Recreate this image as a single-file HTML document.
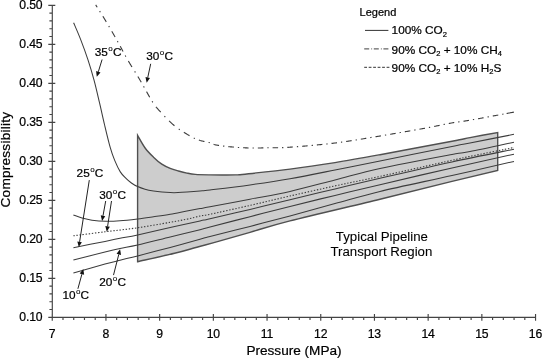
<!DOCTYPE html>
<html><head><meta charset="utf-8"><title>Compressibility vs Pressure</title>
<style>
html,body{margin:0;padding:0;background:#fff;}
body{width:542px;height:359px;overflow:hidden;position:relative;font-family:"Liberation Sans",Arial,sans-serif;}
svg text{font-family:"Liberation Sans",Arial,sans-serif;}
</style></head><body>
<svg width="542" height="359" viewBox="0 0 542 359" style="position:absolute;left:0;top:0">
<rect width="542" height="359" fill="#fff"/>
<path d="M137.60 135.40 C138.85 137.50 142.45 144.37 145.10 148.00 C147.75 151.63 150.72 154.50 153.50 157.20 C156.28 159.90 159.02 162.33 161.80 164.20 C164.58 166.07 167.42 167.27 170.20 168.40 C172.98 169.53 175.72 170.22 178.50 171.00 C181.28 171.78 184.10 172.53 186.90 173.10 C189.70 173.67 191.45 174.10 195.30 174.40 C199.15 174.70 205.05 174.80 210.00 174.90 C214.95 175.00 220.25 175.02 225.00 175.00 C229.75 174.98 236.25 174.83 238.50 174.80 L238.50 174.80 C247.08 173.85 273.92 171.13 290.00 169.10 C306.08 167.07 320.00 165.00 335.00 162.60 C350.00 160.20 360.50 158.27 380.00 154.70 C399.50 151.13 437.00 144.05 452.00 141.20 C467.00 138.35 462.38 139.05 470.00 137.60 C477.62 136.15 493.08 133.35 497.70 132.50 L497.7 170.50 L497.70 170.50 C490.08 172.32 471.62 176.62 452.00 181.40 C432.38 186.18 407.00 192.62 380.00 199.20 C353.00 205.78 311.67 215.38 290.00 220.90 C268.33 226.42 261.80 228.92 250.00 232.30 C238.20 235.68 228.05 238.72 219.20 241.20 C210.35 243.68 204.33 245.18 196.90 247.20 C189.47 249.22 184.48 250.88 174.60 253.30 C164.72 255.72 143.77 260.30 137.60 261.70 Z" fill="#cdcdcd" stroke="#505050" stroke-width="1.4" stroke-linejoin="miter"/>
<path d="M73.60 22.70 C74.77 25.48 78.20 33.20 80.60 39.40 C83.00 45.60 85.75 53.07 88.00 59.90 C90.25 66.73 92.18 73.27 94.10 80.40 C96.02 87.53 97.75 95.27 99.50 102.70 C101.25 110.13 102.82 117.55 104.60 125.00 C106.38 132.45 108.52 141.50 110.20 147.40 C111.88 153.30 113.02 156.32 114.70 160.40 C116.38 164.48 118.42 168.90 120.30 171.90 C122.18 174.90 124.15 176.55 126.00 178.40 C127.85 180.25 129.47 181.63 131.40 183.00 C133.33 184.37 135.33 185.57 137.60 186.60 C139.87 187.63 142.35 188.47 145.00 189.20 C147.65 189.93 150.67 190.52 153.50 191.00 C156.33 191.48 159.22 191.83 162.00 192.10 C164.78 192.37 167.53 192.52 170.20 192.60 C172.87 192.68 175.22 192.68 178.00 192.60 C180.78 192.52 183.23 192.37 186.90 192.10 C190.57 191.83 196.15 191.35 200.00 191.00 C203.85 190.65 201.67 191.02 210.00 190.00 C218.33 188.98 236.67 186.78 250.00 184.90 C263.33 183.02 275.83 181.18 290.00 178.70 C304.17 176.22 320.00 172.97 335.00 170.00 C350.00 167.03 360.50 164.83 380.00 160.90 C399.50 156.97 437.00 149.38 452.00 146.40 C467.00 143.42 459.67 145.02 470.00 143.00 C480.33 140.98 506.67 135.75 514.00 134.30" fill="none" stroke="#3c3c3c" stroke-width="1.05"/>
<path d="M73.40 215.00 C74.83 215.50 78.90 217.13 82.00 218.00 C85.10 218.87 88.03 219.65 92.00 220.20 C95.97 220.75 101.13 221.20 105.80 221.30 C110.47 221.40 114.70 221.20 120.00 220.80 C125.30 220.40 132.02 219.58 137.60 218.90 C143.18 218.22 148.07 217.48 153.50 216.70 C158.93 215.92 164.63 215.15 170.20 214.20 C175.77 213.25 181.93 211.93 186.90 211.00 C191.87 210.07 196.15 209.30 200.00 208.60 C203.85 207.90 201.67 208.37 210.00 206.80 C218.33 205.23 236.67 201.77 250.00 199.20 C263.33 196.63 275.83 194.60 290.00 191.40 C304.17 188.20 320.00 183.83 335.00 180.00 C350.00 176.17 360.50 172.67 380.00 168.40 C399.50 164.13 437.00 157.20 452.00 154.40 C467.00 151.60 459.67 153.63 470.00 151.60 C480.33 149.57 506.67 143.77 514.00 142.20" fill="none" stroke="#3c3c3c" stroke-width="1.05"/>
<path d="M73.40 247.70 C78.67 246.65 97.23 242.97 105.00 241.40 C112.77 239.83 114.57 239.38 120.00 238.30 C125.43 237.22 129.23 236.72 137.60 234.90 C145.97 233.08 159.80 229.73 170.20 227.40 C180.60 225.07 193.37 222.35 200.00 220.90 C206.63 219.45 201.67 220.62 210.00 218.70 C218.33 216.78 236.67 212.57 250.00 209.40 C263.33 206.23 275.83 203.12 290.00 199.70 C304.17 196.28 320.00 192.47 335.00 188.90 C350.00 185.33 360.50 182.80 380.00 178.30 C399.50 173.80 429.67 166.75 452.00 161.90 C474.33 157.05 503.67 151.32 514.00 149.20" fill="none" stroke="#3c3c3c" stroke-width="1.05"/>
<path d="M73.40 260.00 C78.67 258.65 97.23 253.83 105.00 251.90 C112.77 249.97 114.57 249.55 120.00 248.40 C125.43 247.25 129.23 246.90 137.60 245.00 C145.97 243.10 159.80 239.55 170.20 237.00 C180.60 234.45 193.37 231.38 200.00 229.70 C206.63 228.02 201.67 229.07 210.00 226.90 C218.33 224.73 236.67 220.12 250.00 216.70 C263.33 213.28 275.83 209.95 290.00 206.40 C304.17 202.85 320.00 199.02 335.00 195.40 C350.00 191.78 360.50 189.28 380.00 184.70 C399.50 180.12 429.67 172.98 452.00 167.90 C474.33 162.82 503.67 156.48 514.00 154.20" fill="none" stroke="#3c3c3c" stroke-width="1.05"/>
<path d="M73.40 272.90 C78.67 271.43 97.23 266.22 105.00 264.10 C112.77 261.98 114.57 261.57 120.00 260.20 C125.43 258.83 129.23 258.03 137.60 255.90 C145.97 253.77 159.80 250.18 170.20 247.40 C180.60 244.62 193.37 241.03 200.00 239.20 C206.63 237.37 201.67 238.53 210.00 236.40 C218.33 234.27 236.67 229.82 250.00 226.40 C263.33 222.98 275.83 219.70 290.00 215.90 C304.17 212.10 320.00 207.68 335.00 203.60 C350.00 199.52 360.50 196.08 380.00 191.40 C399.50 186.72 429.67 180.50 452.00 175.50 C474.33 170.50 503.67 163.75 514.00 161.40" fill="none" stroke="#3c3c3c" stroke-width="1.05"/>
<path d="M73.40 235.80 C78.67 235.13 94.30 233.13 105.00 231.80 C115.70 230.47 126.73 229.38 137.60 227.80 C148.47 226.22 161.98 223.73 170.20 222.30 C178.42 220.87 181.93 220.25 186.90 219.20 C191.87 218.15 196.15 216.82 200.00 216.00 C203.85 215.18 201.67 216.07 210.00 214.30 C218.33 212.53 236.67 208.45 250.00 205.40 C263.33 202.35 275.83 199.25 290.00 196.00 C304.17 192.75 320.00 189.17 335.00 185.90 C350.00 182.63 360.50 180.67 380.00 176.40 C399.50 172.13 437.00 163.63 452.00 160.30 C467.00 156.97 459.67 158.53 470.00 156.40 C480.33 154.27 506.67 148.98 514.00 147.50" fill="none" stroke="#3c3c3c" stroke-width="1.1" stroke-dasharray="1.4 1.7"/>
<path d="M95.70 4.90 L96.08 5.51 L96.47 6.12 L96.85 6.72 L97.23 7.33 M99.62 11.11 L99.97 11.66 L100.32 12.21 M102.87 16.29 L103.25 16.90 L103.64 17.52 L104.02 18.14 L104.40 18.76 L104.78 19.38 L105.16 20.01 L105.53 20.63 L105.91 21.25 L106.28 21.88 M108.74 26.01 L109.07 26.57 L109.39 27.13 M111.80 31.28 L112.17 31.91 L112.53 32.54 L112.89 33.17 L113.25 33.80 L113.61 34.43 L113.97 35.07 L114.33 35.70 L114.69 36.33 L115.05 36.96 M117.41 41.14 L117.73 41.70 L118.05 42.27 M120.18 46.18 L120.55 46.85 L120.91 47.53 L121.27 48.20 L121.64 48.87 L122.00 49.55 L122.36 50.22 L122.73 50.90 L123.09 51.57 M125.22 55.48 L125.54 56.05 L125.85 56.62 M128.39 61.07 L128.78 61.73 L129.17 62.39 L129.57 63.05 L129.96 63.71 L130.36 64.37 L130.76 65.03 L131.16 65.69 L131.56 66.34 L131.97 67.00 M134.67 71.35 L135.01 71.90 L135.36 72.46 M137.88 76.54 L138.26 77.17 L138.64 77.79 L139.01 78.41 L139.39 79.03 L139.76 79.66 L140.13 80.28 L140.50 80.91 L140.87 81.54 L141.23 82.17 M143.60 86.35 L143.92 86.91 L144.24 87.48 M146.54 91.62 L146.89 92.24 L147.24 92.87 L147.59 93.50 L147.94 94.12 L148.29 94.75 L148.65 95.37 L149.00 96.00 L149.35 96.62 L149.71 97.24 M152.12 101.31 L152.47 101.87 L152.82 102.42 M155.92 106.80 L156.37 107.36 L156.84 107.91 L157.32 108.45 L157.81 108.99 L158.30 109.52 L158.80 110.04 L159.29 110.56 L159.79 111.09 L160.29 111.62 L160.77 112.15 M164.41 116.10 L164.86 116.57 L165.31 117.04 M169.10 120.85 L169.63 121.35 L170.15 121.84 L170.68 122.34 L171.21 122.83 L171.74 123.32 L172.27 123.81 L172.81 124.30 L173.35 124.78 L173.90 125.25 L174.45 125.72 M178.73 128.96 L179.27 129.33 L179.80 129.69 M183.87 132.31 L184.49 132.70 L185.11 133.08 L185.74 133.46 L186.36 133.84 L186.99 134.22 L187.62 134.60 L188.24 134.97 L188.88 135.34 L189.51 135.70 M193.76 138.01 L194.34 138.30 L194.93 138.57 M198.86 140.04 L199.55 140.26 L200.24 140.48 L200.94 140.68 L201.64 140.87 L202.35 141.04 L203.05 141.21 L203.76 141.37 L204.47 141.53 M208.57 142.43 L209.20 142.59 L209.83 142.75 M213.57 144.26 L214.23 144.50 L214.91 144.70 L215.59 144.87 L216.28 145.02 L216.97 145.15 L217.66 145.27 L218.36 145.38 L219.05 145.48 M223.05 146.02 L223.70 146.10 L224.35 146.17 M228.32 146.61 L229.11 146.69 L229.90 146.77 L230.70 146.84 L231.49 146.92 L232.28 146.99 L233.07 147.06 L233.87 147.13 M237.85 147.44 L238.50 147.48 L239.15 147.53 M243.09 147.75 L243.88 147.79 L244.66 147.82 L245.45 147.86 L246.24 147.89 L247.03 147.91 L247.82 147.94 L248.60 147.96 M252.55 148.03 L253.20 148.04 L253.85 148.04 M257.83 148.00 L258.62 147.98 L259.41 147.97 L260.20 147.95 L261.00 147.93 L261.79 147.92 L262.58 147.90 L263.38 147.88 M267.35 147.79 L268.00 147.78 L268.65 147.77 M272.59 147.76 L273.38 147.76 L274.17 147.76 L274.96 147.76 L275.74 147.76 L276.53 147.75 L277.32 147.74 L278.11 147.73 M282.05 147.63 L282.70 147.61 L283.35 147.58 M287.33 147.37 L288.12 147.33 L288.92 147.27 L289.71 147.22 L290.50 147.16 L291.29 147.11 L292.09 147.05 L292.88 146.99 M296.85 146.69 L297.50 146.64 L298.15 146.59 M302.11 146.27 L302.91 146.21 L303.70 146.14 L304.49 146.08 L305.28 146.01 L306.07 145.94 L306.86 145.88 L307.65 145.81 M311.61 145.46 L312.26 145.40 L312.91 145.34 M316.84 144.97 L317.63 144.89 L318.42 144.82 L319.20 144.74 L319.99 144.66 L320.77 144.58 L321.56 144.50 L322.34 144.42 M326.27 144.01 L326.92 143.94 L327.57 143.87 M331.51 143.42 L332.29 143.33 L333.08 143.23 L333.86 143.14 L334.65 143.04 L335.43 142.95 L336.22 142.85 L337.00 142.75 M340.94 142.22 L341.58 142.13 L342.22 142.04 M346.17 141.48 L346.95 141.36 L347.74 141.25 L348.52 141.13 L349.31 141.01 L350.09 140.89 L350.88 140.77 L351.66 140.65 M355.60 140.03 L356.24 139.93 L356.88 139.82 M360.82 139.19 L361.61 139.06 L362.39 138.93 L363.18 138.80 L363.96 138.67 L364.75 138.54 L365.54 138.41 L366.32 138.28 M370.26 137.62 L370.90 137.51 L371.54 137.41 M375.48 136.75 L376.27 136.62 L377.05 136.49 L377.84 136.36 L378.62 136.23 L379.41 136.10 L380.19 135.97 L380.98 135.84 M384.92 135.18 L385.56 135.08 L386.20 134.97 M390.14 134.31 L390.93 134.17 L391.71 134.04 L392.50 133.91 L393.28 133.77 L394.07 133.64 L394.85 133.51 L395.64 133.37 M399.58 132.69 L400.22 132.58 L400.86 132.47 M404.80 131.79 L405.59 131.65 L406.37 131.51 L407.16 131.38 L407.94 131.24 L408.73 131.10 L409.51 130.96 L410.30 130.83 M414.24 130.13 L414.88 130.02 L415.52 129.90 M419.46 129.20 L420.25 129.06 L421.04 128.92 L421.82 128.78 L422.61 128.63 L423.39 128.49 L424.18 128.35 L424.96 128.21 M428.90 127.48 L429.54 127.35 L430.18 127.23 M434.13 126.46 L434.81 126.32 L435.50 126.19 L436.19 126.05 L436.88 125.91 L437.56 125.77 L438.25 125.63 L438.94 125.49 L439.62 125.35 M443.56 124.54 L444.20 124.41 L444.84 124.28 M448.76 123.50 L449.55 123.35 L450.33 123.20 L451.11 123.06 L451.90 122.92 L452.68 122.78 L453.47 122.65 L454.26 122.52 M458.22 121.94 L458.86 121.86 L459.51 121.78 M463.46 121.26 L464.24 121.14 L465.03 121.02 L465.82 120.90 L466.60 120.77 L467.39 120.64 L468.17 120.51 L468.95 120.38 M472.88 119.69 L473.52 119.58 L474.16 119.46 M478.10 118.75 L478.89 118.60 L479.67 118.46 L480.46 118.32 L481.24 118.17 L482.03 118.03 L482.81 117.89 L483.60 117.74 M487.54 117.02 L488.18 116.90 L488.82 116.78 M492.76 116.05 L493.55 115.90 L494.33 115.76 L495.12 115.61 L495.90 115.47 L496.69 115.32 L497.47 115.17 L498.26 115.03 M502.20 114.29 L502.84 114.17 L503.48 114.06 M506.60 113.47 L507.34 113.34 L508.08 113.20 L508.82 113.06 L509.56 112.92 L510.30 112.79 L511.04 112.65 L511.78 112.51 L512.52 112.37 L513.26 112.24 L514.00 112.10" fill="none" stroke="#3c3c3c" stroke-width="1.1"/>
<path d="M52.30 4.80 V317.30 M52.30 317.30 H536.05 M48.30 317.30 H55.30 M49.40 309.50 H52.30 M49.40 301.70 H52.30 M49.40 293.90 H52.30 M49.40 286.10 H52.30 M48.30 278.30 H55.30 M49.40 270.50 H52.30 M49.40 262.70 H52.30 M49.40 254.90 H52.30 M49.40 247.10 H52.30 M48.30 239.30 H55.30 M49.40 231.50 H52.30 M49.40 223.70 H52.30 M49.40 215.90 H52.30 M49.40 208.10 H52.30 M48.30 200.30 H55.30 M49.40 192.50 H52.30 M49.40 184.70 H52.30 M49.40 176.90 H52.30 M49.40 169.10 H52.30 M48.30 161.30 H55.30 M49.40 153.50 H52.30 M49.40 145.70 H52.30 M49.40 137.90 H52.30 M49.40 130.10 H52.30 M48.30 122.30 H55.30 M49.40 114.50 H52.30 M49.40 106.70 H52.30 M49.40 98.90 H52.30 M49.40 91.10 H52.30 M48.30 83.30 H55.30 M49.40 75.50 H52.30 M49.40 67.70 H52.30 M49.40 59.90 H52.30 M49.40 52.10 H52.30 M48.30 44.30 H55.30 M49.40 36.50 H52.30 M49.40 28.70 H52.30 M49.40 20.90 H52.30 M49.40 13.10 H52.30 M48.30 5.30 H55.30 M52.25 313.90 V320.70 M62.99 317.30 V319.90 M73.73 317.30 V319.90 M84.47 317.30 V319.90 M95.21 317.30 V319.90 M105.95 313.90 V320.70 M116.69 317.30 V319.90 M127.43 317.30 V319.90 M138.17 317.30 V319.90 M148.91 317.30 V319.90 M159.65 313.90 V320.70 M170.39 317.30 V319.90 M181.13 317.30 V319.90 M191.87 317.30 V319.90 M202.61 317.30 V319.90 M213.35 313.90 V320.70 M224.09 317.30 V319.90 M234.83 317.30 V319.90 M245.57 317.30 V319.90 M256.31 317.30 V319.90 M267.05 313.90 V320.70 M277.79 317.30 V319.90 M288.53 317.30 V319.90 M299.27 317.30 V319.90 M310.01 317.30 V319.90 M320.75 313.90 V320.70 M331.49 317.30 V319.90 M342.23 317.30 V319.90 M352.97 317.30 V319.90 M363.71 317.30 V319.90 M374.45 313.90 V320.70 M385.19 317.30 V319.90 M395.93 317.30 V319.90 M406.67 317.30 V319.90 M417.41 317.30 V319.90 M428.15 313.90 V320.70 M438.89 317.30 V319.90 M449.63 317.30 V319.90 M460.37 317.30 V319.90 M471.11 317.30 V319.90 M481.85 313.90 V320.70 M492.59 317.30 V319.90 M503.33 317.30 V319.90 M514.07 317.30 V319.90 M524.81 317.30 V319.90 M535.55 313.90 V320.70" fill="none" stroke="#444" stroke-width="1.15"/>
<path d="M102.10 59.50 L98.32 71.80" stroke="#222" stroke-width="1" fill="none"/><path d="M96.77 76.86 L96.12 71.12 L100.52 72.47 Z" fill="#111"/>
<path d="M150.70 63.80 L147.74 77.60" stroke="#222" stroke-width="1" fill="none"/><path d="M146.63 82.78 L145.49 77.12 L149.99 78.08 Z" fill="#111"/>
<path d="M89.30 180.10 L79.60 241.85" stroke="#222" stroke-width="1" fill="none"/><path d="M78.78 247.09 L77.33 241.50 L81.87 242.21 Z" fill="#111"/>
<path d="M105.70 201.00 L103.01 215.77" stroke="#222" stroke-width="1" fill="none"/><path d="M102.06 220.99 L100.74 215.36 L105.27 216.19 Z" fill="#111"/>
<path d="M111.50 201.00 L107.58 226.45" stroke="#222" stroke-width="1" fill="none"/><path d="M106.78 231.69 L105.31 226.10 L109.86 226.80 Z" fill="#111"/>
<path d="M77.90 288.80 L81.91 274.14" stroke="#222" stroke-width="1" fill="none"/><path d="M83.31 269.03 L84.13 274.75 L79.69 273.53 Z" fill="#111"/>
<path d="M113.50 275.10 L118.79 254.36" stroke="#222" stroke-width="1" fill="none"/><path d="M120.10 249.22 L121.02 254.93 L116.56 253.79 Z" fill="#111"/>
<path d="M365 30.4 H388.4" stroke="#333" stroke-width="1" fill="none"/>
<path d="M364.2 48.8 H388.4" stroke="#666" stroke-width="1.3" stroke-dasharray="5 2.1 0.8 1.7" fill="none"/>
<path d="M364.2 67.3 H389.4" stroke="#333" stroke-width="1" stroke-dasharray="2.8 1.68" fill="none"/>
<g font-family="'Liberation Sans', Arial, sans-serif" fill="#000" stroke="#000" stroke-width="0.22"><text x="42.40" y="321.45" font-size="12.2" text-anchor="end" letter-spacing="-0.15">0.10</text>
<text x="42.40" y="282.45" font-size="12.2" text-anchor="end" letter-spacing="-0.15">0.15</text>
<text x="42.40" y="243.45" font-size="12.2" text-anchor="end" letter-spacing="-0.15">0.20</text>
<text x="42.40" y="204.45" font-size="12.2" text-anchor="end" letter-spacing="-0.15">0.25</text>
<text x="42.40" y="165.45" font-size="12.2" text-anchor="end" letter-spacing="-0.15">0.30</text>
<text x="42.40" y="126.45" font-size="12.2" text-anchor="end" letter-spacing="-0.15">0.35</text>
<text x="42.40" y="87.45" font-size="12.2" text-anchor="end" letter-spacing="-0.15">0.40</text>
<text x="42.40" y="48.45" font-size="12.2" text-anchor="end" letter-spacing="-0.15">0.45</text>
<text x="42.40" y="9.45" font-size="12.2" text-anchor="end" letter-spacing="-0.15">0.50</text>
<text x="52.15" y="338.40" font-size="12.2" text-anchor="middle" letter-spacing="-0.2">7</text>
<text x="105.85" y="338.40" font-size="12.2" text-anchor="middle" letter-spacing="-0.2">8</text>
<text x="159.55" y="338.40" font-size="12.2" text-anchor="middle" letter-spacing="-0.2">9</text>
<text x="213.25" y="338.40" font-size="12.2" text-anchor="middle" letter-spacing="-0.2">10</text>
<text x="266.95" y="338.40" font-size="12.2" text-anchor="middle" letter-spacing="-0.2">11</text>
<text x="320.65" y="338.40" font-size="12.2" text-anchor="middle" letter-spacing="-0.2">12</text>
<text x="374.35" y="338.40" font-size="12.2" text-anchor="middle" letter-spacing="-0.2">13</text>
<text x="428.05" y="338.40" font-size="12.2" text-anchor="middle" letter-spacing="-0.2">14</text>
<text x="481.75" y="338.40" font-size="12.2" text-anchor="middle" letter-spacing="-0.2">15</text>
<text x="535.45" y="338.40" font-size="12.2" text-anchor="middle" letter-spacing="-0.2">16</text>
<text x="294.00" y="355.30" font-size="13.6" text-anchor="middle" >Pressure (MPa)</text>
<text transform="translate(10.1 159.7) rotate(-90)" font-size="13.6" text-anchor="middle" textLength="95.5">Compressibility</text>
<text x="359.60" y="16.30" font-size="11" text-anchor="start" >Legend</text>
<text x="391.60" y="34.40" font-size="11.8" text-anchor="start" >100% CO<tspan font-size="7.5" dy="2.2">2</tspan><tspan dy="-2.2"></tspan></text>
<text x="391.60" y="53.50" font-size="11.8" text-anchor="start" >90% CO<tspan font-size="7.5" dy="2.2">2</tspan><tspan dy="-2.2"> + 10% CH</tspan><tspan font-size="7.5" dy="2.2">4</tspan><tspan dy="-2.2"></tspan></text>
<text x="391.60" y="72.00" font-size="11.8" text-anchor="start" >90% CO<tspan font-size="7.5" dy="2.2">2</tspan><tspan dy="-2.2"> + 10% H</tspan><tspan font-size="7.5" dy="2.2">2</tspan><tspan dy="-2.2">S</tspan></text>
<text x="94.80" y="56.40" font-size="11.8" text-anchor="start" >35<tspan font-size="8" dy="-5" dx="0.4" stroke-width="0.1">o</tspan><tspan dy="5" dx="0.2">C</tspan></text>
<text x="146.30" y="60.40" font-size="11.8" text-anchor="start" >30<tspan font-size="8" dy="-5" dx="0.4" stroke-width="0.1">o</tspan><tspan dy="5" dx="0.2">C</tspan></text>
<text x="76.60" y="176.70" font-size="11.8" text-anchor="start" >25<tspan font-size="8" dy="-5" dx="0.4" stroke-width="0.1">o</tspan><tspan dy="5" dx="0.2">C</tspan></text>
<text x="99.30" y="199.30" font-size="11.8" text-anchor="start" >30<tspan font-size="8" dy="-5" dx="0.4" stroke-width="0.1">o</tspan><tspan dy="5" dx="0.2">C</tspan></text>
<text x="62.40" y="299.40" font-size="11.8" text-anchor="start" >10<tspan font-size="8" dy="-5" dx="0.4" stroke-width="0.1">o</tspan><tspan dy="5" dx="0.2">C</tspan></text>
<text x="99.30" y="286.00" font-size="11.8" text-anchor="start" >20<tspan font-size="8" dy="-5" dx="0.4" stroke-width="0.1">o</tspan><tspan dy="5" dx="0.2">C</tspan></text>
<text x="381.90" y="241.00" font-size="13.25" text-anchor="middle" stroke-width="0.08">Typical Pipeline</text>
<text x="381.40" y="255.90" font-size="13.25" text-anchor="middle" stroke-width="0.08">Transport Region</text></g>
</svg>
</body></html>
